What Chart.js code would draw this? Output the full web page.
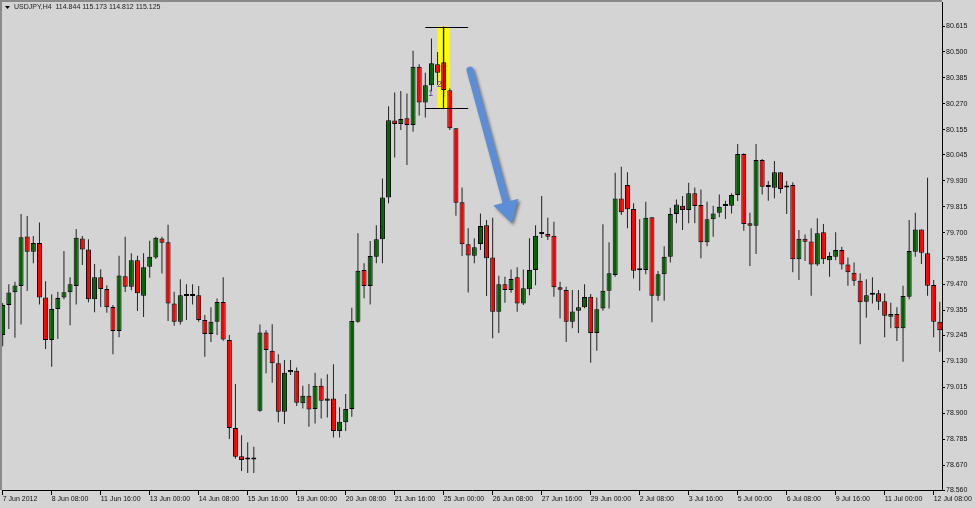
<!DOCTYPE html>
<html>
<head>
<meta charset="utf-8">
<script src="https://cdn.jsdelivr.net/npm/chart.js@4.4.0/dist/chart.umd.min.js"></script>
<style>
  html, body { margin: 0; padding: 0; background: #d4d4d4; }
  canvas { display: block; }
</style>
</head>
<body>
<canvas id="chart" width="975" height="508"></canvas>
<script>
const title = "USDJPY,H4  114.844 115.173 114.812 115.125";

// one label every 8 H4 bars
const tickLabels = [
  "7 Jun 2012", "8 Jun 08:00", "11 Jun 16:00", "13 Jun 00:00", "14 Jun 08:00",
  "15 Jun 16:00", "19 Jun 00:00", "20 Jun 08:00", "21 Jun 16:00", "25 Jun 00:00",
  "26 Jun 08:00", "27 Jun 16:00", "29 Jun 00:00", "2 Jul 08:00", "3 Jul 16:00",
  "5 Jul 00:00", "6 Jul 08:00", "9 Jul 16:00", "11 Jul 00:00", "12 Jul 08:00",
];
const priceTicks = [
  80.615, 80.5, 80.385, 80.27, 80.155, 80.045, 79.93, 79.815, 79.7, 79.585,
  79.47, 79.355, 79.245, 79.13, 79.015, 78.9, 78.785, 78.67, 78.56,
];

const open = [
  79.246, 79.379, 79.436, 79.463, 79.683, 79.615, 79.654, 79.413, 79.224, 79.362,
  79.413, 79.436, 79.463, 79.674, 79.625, 79.405, 79.502, 79.450, 79.370, 79.264,
  79.507, 79.460, 79.578, 79.420, 79.549, 79.590, 79.674, 79.657, 79.386, 79.305,
  79.422, 79.421, 79.422, 79.313, 79.251, 79.305, 79.393, 79.224, 78.835, 78.710,
  78.695, 78.698, 78.911, 79.258, 79.177, 79.121, 78.907, 79.081, 79.088, 78.944,
  78.977, 78.919, 79.022, 78.955, 78.965, 78.821, 78.860, 78.919, 79.305, 79.534,
  79.463, 79.593, 79.670, 79.856, 80.196, 80.181, 80.206, 80.176, 80.435, 80.276,
  80.353, 80.446, 80.454, 80.331, 80.162, 79.834, 79.648, 79.598, 79.649, 79.733,
  79.590, 79.349, 79.471, 79.446, 79.502, 79.386, 79.449, 79.534, 79.698, 79.694,
  79.686, 79.458, 79.446, 79.305, 79.354, 79.369, 79.416, 79.255, 79.364, 79.443,
  79.512, 79.851, 79.911, 79.804, 79.536, 79.534, 79.768, 79.420, 79.515, 79.593,
  79.782, 79.819, 79.800, 79.874, 79.822, 79.657, 79.759, 79.788, 79.820, 79.819,
  79.866, 80.048, 79.741, 79.730, 80.021, 79.904, 79.899, 79.967, 79.903, 79.911,
  79.582, 79.673, 79.661, 79.559, 79.701, 79.578, 79.593, 79.623, 79.559, 79.522,
  79.487, 79.394, 79.428, 79.431, 79.396, 79.327, 79.339, 79.276, 79.416, 79.615,
  79.714, 79.608, 79.468, 79.305,
];
const high = [
  79.388, 79.471, 79.482, 79.782, 79.773, 79.685, 79.745, 79.485, 79.427, 79.438,
  79.618, 79.502, 79.716, 79.685, 79.671, 79.561, 79.538, 79.467, 79.379, 79.597,
  79.682, 79.608, 79.597, 79.608, 79.664, 79.682, 79.682, 79.735, 79.438, 79.493,
  79.471, 79.471, 79.463, 79.335, 79.369, 79.408, 79.502, 79.246, 79.029, 78.803,
  78.771, 78.752, 79.293, 79.268, 79.294, 79.161, 79.136, 79.136, 79.102, 79.022,
  79.029, 79.079, 79.054, 79.073, 79.117, 78.926, 78.985, 79.367, 79.697, 79.564,
  79.663, 79.733, 79.940, 80.260, 80.320, 80.327, 80.316, 80.505, 80.446, 80.408,
  80.560, 80.500, 80.612, 80.339, 80.162, 79.900, 79.719, 79.675, 79.785, 79.756,
  79.766, 79.509, 79.504, 79.537, 79.546, 79.537, 79.675, 79.733, 79.862, 79.766,
  79.748, 79.482, 79.460, 79.446, 79.446, 79.471, 79.428, 79.413, 79.737, 79.657,
  79.965, 79.992, 79.967, 79.830, 79.759, 79.837, 79.768, 79.530, 79.640, 79.810,
  79.847, 79.862, 79.921, 79.900, 79.891, 79.837, 79.819, 79.869, 79.841, 79.874,
  80.092, 80.051, 79.788, 80.092, 80.026, 79.928, 80.017, 79.967, 79.928, 79.923,
  79.711, 79.692, 79.719, 79.763, 79.738, 79.613, 79.701, 79.637, 79.590, 79.568,
  79.520, 79.493, 79.502, 79.446, 79.431, 79.389, 79.369, 79.465, 79.756, 79.788,
  79.714, 79.943, 79.490, 79.394,
];
const low = [
  79.197, 79.273, 79.234, 79.293, 79.441, 79.564, 79.382, 79.184, 79.106, 79.229,
  79.405, 79.290, 79.382, 79.556, 79.391, 79.347, 79.371, 79.345, 79.161, 79.237,
  79.437, 79.445, 79.353, 79.326, 79.500, 79.583, 79.519, 79.308, 79.287, 79.293,
  79.313, 79.382, 79.305, 79.150, 79.216, 79.246, 79.221, 78.786, 78.700, 78.644,
  78.635, 78.635, 78.907, 79.077, 79.035, 78.860, 78.852, 79.069, 78.932, 78.921,
  78.840, 78.855, 78.877, 78.881, 78.793, 78.793, 78.821, 78.884, 79.301, 79.409,
  79.382, 79.564, 79.564, 79.830, 80.033, 80.154, 79.999, 80.147, 80.219, 80.210,
  80.326, 80.354, 80.300, 80.154, 79.775, 79.596, 79.435, 79.564, 79.623, 79.419,
  79.232, 79.255, 79.389, 79.434, 79.349, 79.379, 79.423, 79.467, 79.676, 79.667,
  79.416, 79.320, 79.216, 79.276, 79.255, 79.365, 79.124, 79.177, 79.354, 79.364,
  79.505, 79.778, 79.719, 79.497, 79.443, 79.515, 79.303, 79.398, 79.398, 79.568,
  79.741, 79.711, 79.741, 79.741, 79.586, 79.640, 79.682, 79.768, 79.760, 79.785,
  79.840, 79.708, 79.552, 79.605, 79.869, 79.841, 79.852, 79.874, 79.782, 79.524,
  79.490, 79.574, 79.420, 79.552, 79.561, 79.505, 79.578, 79.537, 79.465, 79.465,
  79.206, 79.323, 79.386, 79.357, 79.236, 79.276, 79.220, 79.128, 79.405, 79.593,
  79.561, 79.420, 79.236, 79.172,
];
const close = [
  79.379, 79.435, 79.466, 79.679, 79.615, 79.654, 79.413, 79.224, 79.362, 79.410,
  79.436, 79.471, 79.677, 79.625, 79.405, 79.502, 79.450, 79.369, 79.264, 79.510,
  79.460, 79.578, 79.431, 79.547, 79.593, 79.677, 79.655, 79.386, 79.305, 79.423,
  79.419, 79.419, 79.313, 79.251, 79.305, 79.393, 79.227, 78.835, 78.707, 78.693,
  78.698, 78.695, 79.258, 79.180, 79.121, 78.907, 79.079, 79.091, 78.946, 78.977,
  78.917, 79.022, 78.955, 78.965, 78.821, 78.862, 78.919, 79.308, 79.531, 79.463,
  79.596, 79.670, 79.856, 80.198, 80.181, 80.203, 80.176, 80.435, 80.276, 80.353,
  80.450, 80.408, 80.332, 80.162, 79.832, 79.648, 79.599, 79.635, 79.729, 79.586,
  79.349, 79.471, 79.446, 79.494, 79.386, 79.453, 79.534, 79.686, 79.694, 79.682,
  79.458, 79.447, 79.305, 79.351, 79.369, 79.415, 79.255, 79.361, 79.443, 79.520,
  79.851, 79.790, 79.803, 79.531, 79.533, 79.766, 79.420, 79.516, 79.593, 79.782,
  79.825, 79.800, 79.874, 79.818, 79.657, 79.759, 79.785, 79.815, 79.818, 79.866,
  80.048, 79.738, 79.730, 80.021, 79.903, 79.902, 79.967, 79.893, 79.900, 79.582,
  79.673, 79.660, 79.559, 79.697, 79.582, 79.596, 79.623, 79.559, 79.524, 79.487,
  79.391, 79.423, 79.425, 79.394, 79.332, 79.339, 79.276, 79.419, 79.618, 79.714,
  79.611, 79.465, 79.305, 79.268,
];

// hand-drawn objects on the chart, in bar index / price units
const rangeBars = [71, 73];
const rangeLineBars = [69, 76];
const rangePrices = [80.612, 80.253];
const arrowFrom = [76.3, 80.42];
const arrowTo = [83.1, 79.741];
const waveMarks = [
  { text: "1", bar: 69.9, price: 80.318 },
  { text: "2", bar: 71.3, price: 80.358 },
];

const BULL = "#006400";
const BEAR = "#ff0000";
const FONT = "Liberation Sans";

const bodies = open.map((o, i) => ({ x: i, y: [o, close[i]] }));
const wicks = low.map((l, i) => ({ x: i, y: [l, high[i]] }));

// Objects and frame drawn by hand, MT4 style.
const drawings = {
  id: "drawings",
  beforeDatasetsDraw(chart) {
    const { ctx, scales: { x, y } } = chart;
    const x0 = x.getPixelForValue(rangeBars[0]);
    const x1 = x.getPixelForValue(rangeBars[1]);
    const y0 = y.getPixelForValue(rangePrices[0]);
    const y1 = y.getPixelForValue(rangePrices[1]);
    ctx.save();
    ctx.fillStyle = "#ffff00";
    ctx.fillRect(x0, y0, x1 - x0, y1 - y0);
    ctx.restore();
  },
  afterDatasetsDraw(chart) {
    const { ctx, scales: { x, y } } = chart;
    ctx.save();
    // range marker
    ctx.strokeStyle = "#000";
    ctx.lineWidth = 1.2;
    const lx0 = x.getPixelForValue(rangeLineBars[0]);
    const lx1 = x.getPixelForValue(rangeLineBars[1]);
    ctx.beginPath();
    rangePrices.forEach((p) => {
      const py = Math.round(y.getPixelForValue(p)) + 0.5;
      ctx.moveTo(lx0, py);
      ctx.lineTo(lx1, py);
    });
    const vx = Math.round(x.getPixelForValue(72)) - 0.5;
    ctx.moveTo(vx, y.getPixelForValue(rangePrices[0]));
    ctx.lineTo(vx, y.getPixelForValue(rangePrices[1]));
    ctx.stroke();

    // wave numbers
    ctx.font = "9px " + FONT;
    ctx.textAlign = "center";
    ctx.textBaseline = "middle";
    ctx.fillStyle = "#6a35a0";
    waveMarks.forEach((m) => {
      ctx.fillText(m.text, x.getPixelForValue(m.bar), y.getPixelForValue(m.price));
    });

    // blue arrow
    const ax0 = x.getPixelForValue(arrowFrom[0]);
    const ay0 = y.getPixelForValue(arrowFrom[1]);
    const ax1 = x.getPixelForValue(arrowTo[0]);
    const ay1 = y.getPixelForValue(arrowTo[1]);
    const ang = Math.atan2(ay1 - ay0, ax1 - ax0);
    const headLen = 22;
    const headW = 13;
    const bx = ax1 - headLen * Math.cos(ang);
    const by = ay1 - headLen * Math.sin(ang);
    ctx.shadowColor = "rgba(0,0,0,0.45)";
    ctx.shadowOffsetX = 2;
    ctx.shadowOffsetY = 2;
    ctx.shadowBlur = 3;
    ctx.strokeStyle = "#5b8ed6";
    ctx.fillStyle = "#5b8ed6";
    ctx.lineWidth = 7;
    ctx.lineCap = "round";
    ctx.beginPath();
    ctx.moveTo(ax0, ay0);
    ctx.lineTo(bx + 2 * Math.cos(ang), by + 2 * Math.sin(ang));
    ctx.stroke();
    ctx.beginPath();
    ctx.moveTo(ax1, ay1);
    ctx.lineTo(bx + headW * Math.sin(ang), by - headW * Math.cos(ang));
    ctx.lineTo(bx - headW * Math.sin(ang), by + headW * Math.cos(ang));
    ctx.closePath();
    ctx.fill();
    ctx.restore();
  },
  afterDraw(chart) {
    const { ctx, chartArea } = chart;
    ctx.save();
    // window frame
    ctx.fillStyle = "#8a8a8a";
    ctx.fillRect(0, 0, chartArea.right, 2);
    ctx.fillRect(0, 0, 2, chartArea.bottom);
    // symbol line
    ctx.fillStyle = "#000";
    ctx.beginPath();
    ctx.moveTo(5, 6);
    ctx.lineTo(10, 6);
    ctx.lineTo(7.5, 9);
    ctx.closePath();
    ctx.fill();
    ctx.font = "7px " + FONT;
    ctx.textBaseline = "middle";
    ctx.fillStyle = "#222";
    ctx.fillText(title, 14, 7.5);
    ctx.restore();
  },
};

new Chart(document.getElementById("chart"), {
  type: "bar",
  data: {
    datasets: [
      {
        data: bodies,
        order: 0,
        grouped: false,
        barThickness: 5,
        minBarLength: 2,
        borderWidth: 1,
        borderColor: "#000",
        borderSkipped: false,
        inflateAmount: 0,
        backgroundColor: (c) =>
          close[c.dataIndex] >= open[c.dataIndex] ? BULL : BEAR,
      },
      {
        data: wicks,
        order: 1,
        grouped: false,
        barThickness: 1,
        borderWidth: 0,
        inflateAmount: 0,
        backgroundColor: "#222",
      },
    ],
  },
  options: {
    responsive: false,
    devicePixelRatio: 1,
    animation: false,
    layout: { padding: { left: 2, top: 2, right: 0, bottom: 0 } },
    plugins: {
      legend: { display: false },
      tooltip: { enabled: false },
    },
    scales: {
      x: {
        type: "linear",
        bounds: "data",
        min: -0.114,
        max: 153.36,
        offset: false,
        grid: {
          offset: false,
          drawOnChartArea: false,
          drawTicks: true,
          tickLength: 5,
          color: "#000",
        },
        border: { color: "#000", width: 1 },
        ticks: {
          autoSkip: false,
          maxRotation: 0,
          minRotation: 0,
          align: "start",
          padding: 0,
          color: "#111",
          font: { family: FONT, size: 7 },
          callback: (v) => tickLabels[Math.round(v / 8)],
        },
        afterBuildTicks: (s) => {
          s.ticks = tickLabels.map((_, k) => ({ value: k * 8 }));
        },
        afterFit: (s) => {
          s.height = 18;
          s.paddingLeft = 0;
          s.paddingRight = 0;
        },
      },
      y: {
        position: "right",
        bounds: "data",
        min: 78.56,
        max: 80.7213,
        grid: {
          drawOnChartArea: false,
          drawTicks: true,
          tickLength: 3,
          color: "#000",
        },
        border: { color: "#000", width: 1 },
        ticks: {
          padding: 1,
          color: "#111",
          font: { family: FONT, size: 7 },
          callback: (v) => v.toFixed(3),
        },
        afterBuildTicks: (s) => {
          s.ticks = priceTicks.map((v) => ({ value: v }));
        },
        afterFit: (s) => {
          s.width = 33;
          s.paddingTop = 0;
          s.paddingBottom = 0;
        },
      },
    },
  },
  plugins: [drawings],
});
</script>
</body>
</html>
